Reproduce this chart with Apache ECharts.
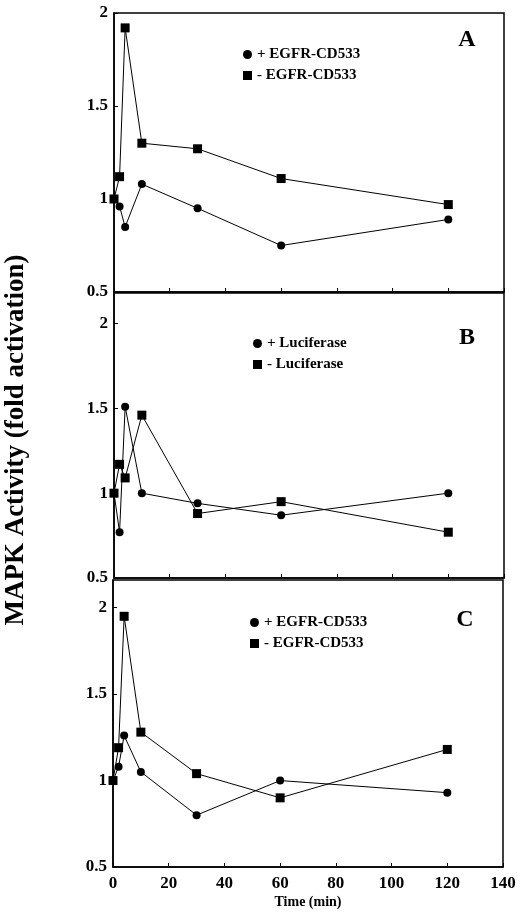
<!DOCTYPE html>
<html>
<head>
<meta charset="utf-8">
<script src="https://cdn.jsdelivr.net/npm/echarts@6/dist/echarts.min.js"></script>
<style>
  html, body { margin: 0; padding: 0; background: #fff; }
  #container { width: 520px; height: 915px; }
</style>
</head>
<body>
<div id="container"></div>
<script>
var dom = document.getElementById("container");
var myChart = echarts.init(dom);

// time points (min)
var times = [0, 2, 4, 10, 30, 60, 120];
var xTicks = [0, 20, 40, 60, 80, 100, 120, 140];

// panel A
var aPlus = [1.0, 0.96, 0.85, 1.08, 0.95, 0.75, 0.89];
var aMinus = [1.0, 1.12, 1.92, 1.30, 1.27, 1.11, 0.97];
// panel B
var bPlus = [1.0, 0.77, 1.51, 1.0, 0.94, 0.87, 1.0];
var bMinus = [1.0, 1.17, 1.09, 1.46, 0.88, 0.95, 0.77];
// panel C
var cPlus = [1.0, 1.08, 1.26, 1.05, 0.80, 1.0, 0.93];
var cMinus = [1.0, 1.19, 1.95, 1.28, 1.04, 0.90, 1.18];

var panelNames = ['A', 'B', 'C'];
var legendNames = [
    ['+ EGFR-CD533', '- EGFR-CD533'],
    ['+ Luciferase', '- Luciferase'],
    ['+ EGFR-CD533', '- EGFR-CD533']
];
var panelData = [[aPlus, aMinus], [bPlus, bMinus], [cPlus, cMinus]];

var serif = '"Liberation Serif", "Times New Roman", serif';

function pairs(vals) {
    var out = [];
    for (var i = 0; i < times.length; i++) {
        out.push([times[i], vals[i]]);
    }
    return out;
}

// layout of the three stacked panels
var grids = [
    {left: 114, right: 16, top: 13, height: 279},
    {left: 114, right: 16, top: 293, height: 285},
    {left: 113, right: 17, top: 580, height: 287}
];
var yMax = [2, 2.18, 2.16];
var legendPos = [[238, 42], [248, 331], [245, 610]];
var letterPos = [[467, 40], [467, 338], [465, 620]];

var option = {
    backgroundColor: '#fff',
    animation: false,
    grid: [],
    xAxis: [],
    yAxis: [],
    legend: [],
    series: [],
    graphic: []
};

for (var p = 0; p < 3; p++) {
    option.grid.push({
        left: grids[p].left,
        right: grids[p].right,
        top: grids[p].top,
        height: grids[p].height,
        show: true,
        borderColor: '#000',
        borderWidth: 1.5
    });
    var last = (p === 2);
    option.xAxis.push({
        type: 'value',
        gridIndex: p,
        min: 0,
        max: 140,
        interval: 20,
        splitLine: {show: false},
        axisLine: {show: true, lineStyle: {color: '#000', width: 1.5}},
        axisTick: {show: true, inside: true, length: 4, lineStyle: {color: '#000'}},
        axisLabel: {
            show: last,
            margin: 8,
            color: '#000',
            fontFamily: serif,
            fontWeight: 'bold',
            fontSize: 17
        },
        name: last ? 'Time (min)' : '',
        nameLocation: 'middle',
        nameGap: 28,
        nameTextStyle: {
            color: '#000',
            fontFamily: serif,
            fontWeight: 'bold',
            fontSize: 14
        }
    });
    option.yAxis.push({
        type: 'value',
        gridIndex: p,
        min: 0.5,
        max: yMax[p],
        interval: 0.5,
        splitLine: {show: false},
        axisLine: {show: true, lineStyle: {color: '#000', width: 1.5}},
        axisTick: {show: true, inside: true, length: 4, lineStyle: {color: '#000'}},
        axisLabel: {
            margin: 6,
            showMaxLabel: p === 0,
            color: '#000',
            fontFamily: serif,
            fontWeight: 'bold',
            fontSize: 17
        }
    });
    option.legend.push({
        orient: 'vertical',
        left: legendPos[p][0],
        top: legendPos[p][1],
        itemWidth: 9,
        itemHeight: 9,
        itemGap: 6,
        selectedMode: false,
        data: [
            {name: legendNames[p][0], icon: 'circle'},
            {name: legendNames[p][1], icon: 'rect'}
        ],
        textStyle: {
            color: '#000',
            fontFamily: serif,
            fontWeight: 'bold',
            fontSize: 15
        }
    });
    option.series.push({
        name: legendNames[p][0],
        type: 'line',
        xAxisIndex: p,
        yAxisIndex: p,
        symbol: 'circle',
        symbolSize: 8,
        data: pairs(panelData[p][0]),
        lineStyle: {color: '#000', width: 1},
        itemStyle: {color: '#000'}
    });
    option.series.push({
        name: legendNames[p][1],
        type: 'line',
        xAxisIndex: p,
        yAxisIndex: p,
        symbol: 'rect',
        symbolSize: 9,
        data: pairs(panelData[p][1]),
        lineStyle: {color: '#000', width: 1},
        itemStyle: {color: '#000'}
    });
    option.graphic.push({
        type: 'text',
        x: letterPos[p][0],
        y: letterPos[p][1],
        style: {
            text: panelNames[p],
            fill: '#000',
            fontFamily: serif,
            fontWeight: 'bold',
            fontSize: 24,
            align: 'center',
            verticalAlign: 'middle'
        }
    });
}

// shared y axis title
option.graphic.push({
    type: 'text',
    x: 16,
    y: 440,
    rotation: Math.PI / 2,
    style: {
        text: 'MAPK Activity (fold activation)',
        fill: '#000',
        fontFamily: serif,
        fontWeight: 'bold',
        fontSize: 27,
        align: 'center',
        verticalAlign: 'middle'
    }
});

myChart.setOption(option);
</script>
</body>
</html>
